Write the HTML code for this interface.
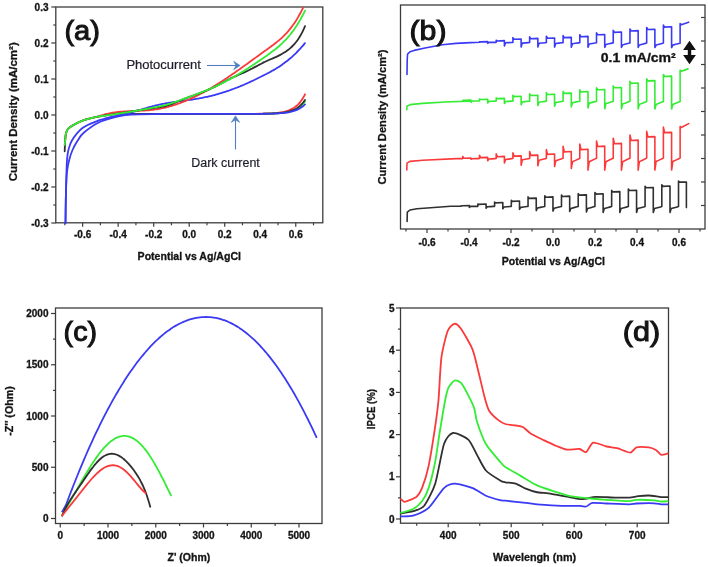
<!DOCTYPE html>
<html><head><meta charset="utf-8"><style>
html,body{margin:0;padding:0;background:#fff;width:708px;height:567px;overflow:hidden}
svg{display:block;font-family:"Liberation Sans",sans-serif;filter:blur(0.4px)}
</style></head><body>
<svg width="708" height="567" viewBox="0 0 708 567">
<rect width="708" height="567" fill="#fff"/>
<rect x="55.8" y="7.0" width="267.0" height="215.8" fill="none" stroke="#3c3c3c" stroke-width="1.3"/>
<line x1="51.30" y1="223.00" x2="55.80" y2="223.00" stroke="#3c3c3c" stroke-width="1.2"/>
<text x="48.50" y="226.50" font-size="10" text-anchor="end" font-weight="bold" fill="#141414" stroke="#141414" stroke-width="0.3">-0.3</text>
<line x1="53.30" y1="205.00" x2="55.80" y2="205.00" stroke="#3c3c3c" stroke-width="1.2"/>
<line x1="51.30" y1="187.00" x2="55.80" y2="187.00" stroke="#3c3c3c" stroke-width="1.2"/>
<text x="48.50" y="190.50" font-size="10" text-anchor="end" font-weight="bold" fill="#141414" stroke="#141414" stroke-width="0.3">-0.2</text>
<line x1="53.30" y1="169.00" x2="55.80" y2="169.00" stroke="#3c3c3c" stroke-width="1.2"/>
<line x1="51.30" y1="151.00" x2="55.80" y2="151.00" stroke="#3c3c3c" stroke-width="1.2"/>
<text x="48.50" y="154.50" font-size="10" text-anchor="end" font-weight="bold" fill="#141414" stroke="#141414" stroke-width="0.3">-0.1</text>
<line x1="53.30" y1="133.00" x2="55.80" y2="133.00" stroke="#3c3c3c" stroke-width="1.2"/>
<line x1="51.30" y1="115.00" x2="55.80" y2="115.00" stroke="#3c3c3c" stroke-width="1.2"/>
<text x="48.50" y="118.50" font-size="10" text-anchor="end" font-weight="bold" fill="#141414" stroke="#141414" stroke-width="0.3">0.0</text>
<line x1="53.30" y1="97.00" x2="55.80" y2="97.00" stroke="#3c3c3c" stroke-width="1.2"/>
<line x1="51.30" y1="79.00" x2="55.80" y2="79.00" stroke="#3c3c3c" stroke-width="1.2"/>
<text x="48.50" y="82.50" font-size="10" text-anchor="end" font-weight="bold" fill="#141414" stroke="#141414" stroke-width="0.3">0.1</text>
<line x1="53.30" y1="61.00" x2="55.80" y2="61.00" stroke="#3c3c3c" stroke-width="1.2"/>
<line x1="51.30" y1="43.00" x2="55.80" y2="43.00" stroke="#3c3c3c" stroke-width="1.2"/>
<text x="48.50" y="46.50" font-size="10" text-anchor="end" font-weight="bold" fill="#141414" stroke="#141414" stroke-width="0.3">0.2</text>
<line x1="53.30" y1="25.00" x2="55.80" y2="25.00" stroke="#3c3c3c" stroke-width="1.2"/>
<line x1="51.30" y1="7.00" x2="55.80" y2="7.00" stroke="#3c3c3c" stroke-width="1.2"/>
<text x="48.50" y="10.50" font-size="10" text-anchor="end" font-weight="bold" fill="#141414" stroke="#141414" stroke-width="0.3">0.3</text>
<line x1="64.88" y1="222.80" x2="64.88" y2="225.30" stroke="#3c3c3c" stroke-width="1.2"/>
<line x1="82.64" y1="222.80" x2="82.64" y2="226.80" stroke="#3c3c3c" stroke-width="1.2"/>
<text x="82.64" y="238.30" font-size="10" text-anchor="middle" font-weight="bold" fill="#141414" stroke="#141414" stroke-width="0.3">-0.6</text>
<line x1="100.40" y1="222.80" x2="100.40" y2="225.30" stroke="#3c3c3c" stroke-width="1.2"/>
<line x1="118.16" y1="222.80" x2="118.16" y2="226.80" stroke="#3c3c3c" stroke-width="1.2"/>
<text x="118.16" y="238.30" font-size="10" text-anchor="middle" font-weight="bold" fill="#141414" stroke="#141414" stroke-width="0.3">-0.4</text>
<line x1="135.92" y1="222.80" x2="135.92" y2="225.30" stroke="#3c3c3c" stroke-width="1.2"/>
<line x1="153.68" y1="222.80" x2="153.68" y2="226.80" stroke="#3c3c3c" stroke-width="1.2"/>
<text x="153.68" y="238.30" font-size="10" text-anchor="middle" font-weight="bold" fill="#141414" stroke="#141414" stroke-width="0.3">-0.2</text>
<line x1="171.44" y1="222.80" x2="171.44" y2="225.30" stroke="#3c3c3c" stroke-width="1.2"/>
<line x1="189.20" y1="222.80" x2="189.20" y2="226.80" stroke="#3c3c3c" stroke-width="1.2"/>
<text x="189.20" y="238.30" font-size="10" text-anchor="middle" font-weight="bold" fill="#141414" stroke="#141414" stroke-width="0.3">0.0</text>
<line x1="206.96" y1="222.80" x2="206.96" y2="225.30" stroke="#3c3c3c" stroke-width="1.2"/>
<line x1="224.72" y1="222.80" x2="224.72" y2="226.80" stroke="#3c3c3c" stroke-width="1.2"/>
<text x="224.72" y="238.30" font-size="10" text-anchor="middle" font-weight="bold" fill="#141414" stroke="#141414" stroke-width="0.3">0.2</text>
<line x1="242.48" y1="222.80" x2="242.48" y2="225.30" stroke="#3c3c3c" stroke-width="1.2"/>
<line x1="260.24" y1="222.80" x2="260.24" y2="226.80" stroke="#3c3c3c" stroke-width="1.2"/>
<text x="260.24" y="238.30" font-size="10" text-anchor="middle" font-weight="bold" fill="#141414" stroke="#141414" stroke-width="0.3">0.4</text>
<line x1="278.00" y1="222.80" x2="278.00" y2="225.30" stroke="#3c3c3c" stroke-width="1.2"/>
<line x1="295.76" y1="222.80" x2="295.76" y2="226.80" stroke="#3c3c3c" stroke-width="1.2"/>
<text x="295.76" y="238.30" font-size="10" text-anchor="middle" font-weight="bold" fill="#141414" stroke="#141414" stroke-width="0.3">0.6</text>
<line x1="313.52" y1="222.80" x2="313.52" y2="225.30" stroke="#3c3c3c" stroke-width="1.2"/>
<text x="189.30" y="260.30" font-size="10.5" text-anchor="middle" font-weight="bold" fill="#141414" stroke="#141414" stroke-width="0.3" textLength="103.4" lengthAdjust="spacingAndGlyphs">Potential vs Ag/AgCl</text>
<text x="16.80" y="111.80" font-size="11.5" text-anchor="middle" font-weight="bold" fill="#141414" stroke="#141414" stroke-width="0.3" textLength="139" lengthAdjust="spacingAndGlyphs" transform="rotate(-90 16.8 111.8)">Current Density (mA/cm²)</text>
<text x="82.20" y="39.60" font-size="27" text-anchor="middle" font-weight="normal" fill="#141414" stroke="#141414" stroke-width="1.0" textLength="35.6" lengthAdjust="spacingAndGlyphs">(a)</text>
<path d="M131.00,113.90 C132.67,113.90 137.67,113.90 141.00,113.90 C144.33,113.90 147.67,113.90 151.00,113.90 C154.33,113.90 157.67,113.90 161.00,113.90 C164.33,113.90 167.67,113.90 171.00,113.90 C174.33,113.90 177.67,113.90 181.00,113.90 C184.33,113.90 187.67,113.90 191.00,113.90 C194.33,113.90 197.67,113.90 201.00,113.90 C204.33,113.90 207.67,113.90 211.00,113.90 C214.33,113.90 217.67,113.90 221.00,113.90 C224.33,113.90 227.67,113.90 231.00,113.89 C234.33,113.89 237.67,113.89 241.00,113.88 C244.33,113.87 247.67,113.86 251.00,113.83 C254.33,113.81 259.08,113.74 261.00,113.71 C262.92,113.68 262.00,113.69 262.50,113.68 C263.00,113.66 263.50,113.65 264.00,113.64 C264.50,113.62 265.00,113.61 265.50,113.59 C266.00,113.58 266.50,113.56 267.00,113.54 C267.50,113.52 268.00,113.50 268.50,113.48 C269.00,113.46 269.50,113.43 270.00,113.41 C270.50,113.38 271.00,113.35 271.50,113.32 C272.00,113.29 272.50,113.26 273.00,113.22 C273.50,113.19 274.00,113.15 274.50,113.11 C275.00,113.07 275.50,113.02 276.00,112.97 C276.50,112.93 277.00,112.87 277.50,112.82 C278.00,112.76 278.50,112.70 279.00,112.63 C279.50,112.56 280.00,112.49 280.50,112.41 C281.00,112.33 281.50,112.25 282.00,112.16 C282.50,112.07 283.00,111.97 283.50,111.86 C284.00,111.75 284.50,111.64 285.00,111.51 C285.50,111.39 286.00,111.25 286.50,111.10 C287.00,110.96 287.50,110.80 288.00,110.63 C288.50,110.45 289.00,110.27 289.50,110.07 C290.00,109.86 290.50,109.65 291.00,109.41 C291.50,109.17 292.00,108.92 292.50,108.64 C293.00,108.36 293.50,108.07 294.00,107.74 C294.50,107.42 295.00,107.07 295.50,106.69 C296.00,106.31 296.50,105.90 297.00,105.46 C297.50,105.01 298.00,104.53 298.50,104.01 C299.00,103.49 299.50,102.93 300.00,102.32 C300.50,101.71 301.00,101.06 301.50,100.34 C302.00,99.62 302.50,98.86 303.00,98.02 C303.50,97.18 304.17,95.93 304.50,95.30 C304.83,94.68 304.92,94.47 305.00,94.30" fill="none" stroke="#fa3a3a" stroke-width="1.8" stroke-linejoin="round" stroke-linecap="round"/>
<path d="M131.00,113.90 C132.67,113.90 137.67,113.90 141.00,113.90 C144.33,113.90 147.67,113.90 151.00,113.90 C154.33,113.90 157.67,113.90 161.00,113.90 C164.33,113.90 167.67,113.90 171.00,113.90 C174.33,113.90 177.67,113.90 181.00,113.90 C184.33,113.90 187.67,113.90 191.00,113.90 C194.33,113.90 197.67,113.90 201.00,113.90 C204.33,113.90 207.67,113.90 211.00,113.90 C214.33,113.90 217.67,113.90 221.00,113.90 C224.33,113.90 227.67,113.90 231.00,113.90 C234.33,113.90 237.67,113.89 241.00,113.89 C244.33,113.89 247.67,113.88 251.00,113.87 C254.33,113.86 259.08,113.82 261.00,113.81 C262.92,113.79 262.00,113.80 262.50,113.79 C263.00,113.78 263.50,113.78 264.00,113.77 C264.50,113.76 265.00,113.75 265.50,113.74 C266.00,113.74 266.50,113.73 267.00,113.72 C267.50,113.71 268.00,113.70 268.50,113.68 C269.00,113.67 269.50,113.66 270.00,113.64 C270.50,113.63 271.00,113.61 271.50,113.60 C272.00,113.58 272.50,113.56 273.00,113.54 C273.50,113.52 274.00,113.50 274.50,113.48 C275.00,113.45 275.50,113.43 276.00,113.40 C276.50,113.37 277.00,113.34 277.50,113.31 C278.00,113.28 278.50,113.24 279.00,113.20 C279.50,113.17 280.00,113.12 280.50,113.08 C281.00,113.03 281.50,112.98 282.00,112.93 C282.50,112.88 283.00,112.82 283.50,112.75 C284.00,112.69 284.50,112.62 285.00,112.55 C285.50,112.47 286.00,112.39 286.50,112.30 C287.00,112.21 287.50,112.12 288.00,112.01 C288.50,111.90 289.00,111.79 289.50,111.67 C290.00,111.54 290.50,111.41 291.00,111.26 C291.50,111.11 292.00,110.96 292.50,110.78 C293.00,110.61 293.50,110.42 294.00,110.22 C294.50,110.01 295.00,109.79 295.50,109.55 C296.00,109.31 296.50,109.05 297.00,108.76 C297.50,108.47 298.00,108.17 298.50,107.83 C299.00,107.49 299.50,107.13 300.00,106.73 C300.50,106.33 301.00,105.90 301.50,105.43 C302.00,104.95 302.50,104.45 303.00,103.89 C303.50,103.33 304.17,102.49 304.50,102.08 C304.83,101.66 304.92,101.51 305.00,101.40" fill="none" stroke="#34ec34" stroke-width="1.8" stroke-linejoin="round" stroke-linecap="round"/>
<path d="M131.00,113.90 C132.67,113.90 137.67,113.90 141.00,113.90 C144.33,113.90 147.67,113.90 151.00,113.90 C154.33,113.90 157.67,113.90 161.00,113.90 C164.33,113.90 167.67,113.90 171.00,113.90 C174.33,113.90 177.67,113.90 181.00,113.90 C184.33,113.90 187.67,113.90 191.00,113.90 C194.33,113.90 197.67,113.90 201.00,113.90 C204.33,113.90 207.67,113.90 211.00,113.90 C214.33,113.90 217.67,113.90 221.00,113.90 C224.33,113.90 227.67,113.90 231.00,113.90 C234.33,113.89 237.67,113.89 241.00,113.89 C244.33,113.88 247.67,113.88 251.00,113.87 C254.33,113.85 259.08,113.81 261.00,113.80 C262.92,113.78 262.00,113.78 262.50,113.78 C263.00,113.77 263.50,113.76 264.00,113.75 C264.50,113.75 265.00,113.74 265.50,113.73 C266.00,113.72 266.50,113.71 267.00,113.70 C267.50,113.68 268.00,113.67 268.50,113.66 C269.00,113.65 269.50,113.63 270.00,113.62 C270.50,113.60 271.00,113.58 271.50,113.56 C272.00,113.55 272.50,113.53 273.00,113.50 C273.50,113.48 274.00,113.46 274.50,113.43 C275.00,113.40 275.50,113.38 276.00,113.35 C276.50,113.31 277.00,113.28 277.50,113.25 C278.00,113.21 278.50,113.17 279.00,113.13 C279.50,113.08 280.00,113.04 280.50,112.99 C281.00,112.94 281.50,112.88 282.00,112.82 C282.50,112.76 283.00,112.70 283.50,112.62 C284.00,112.55 284.50,112.48 285.00,112.39 C285.50,112.31 286.00,112.22 286.50,112.12 C287.00,112.02 287.50,111.92 288.00,111.80 C288.50,111.68 289.00,111.56 289.50,111.42 C290.00,111.28 290.50,111.13 291.00,110.97 C291.50,110.80 292.00,110.63 292.50,110.43 C293.00,110.24 293.50,110.03 294.00,109.81 C294.50,109.58 295.00,109.33 295.50,109.06 C296.00,108.79 296.50,108.50 297.00,108.19 C297.50,107.87 298.00,107.53 298.50,107.15 C299.00,106.77 299.50,106.37 300.00,105.92 C300.50,105.48 301.00,105.00 301.50,104.48 C302.00,103.95 302.50,103.39 303.00,102.77 C303.50,102.15 304.17,101.21 304.50,100.75 C304.83,100.29 304.92,100.13 305.00,100.00" fill="none" stroke="#303030" stroke-width="1.8" stroke-linejoin="round" stroke-linecap="round"/>
<path d="M65.50,223.00 C65.55,219.17 65.65,207.17 65.80,200.00 C65.95,192.83 66.17,185.00 66.40,180.00 C66.63,175.00 66.73,173.33 67.20,170.00 C67.67,166.67 68.32,163.33 69.20,160.00 C70.08,156.67 71.03,153.33 72.50,150.00 C73.97,146.67 76.08,142.92 78.00,140.00 C79.92,137.08 80.62,135.38 84.00,132.50 C87.38,129.62 92.97,125.30 98.30,122.70 C103.63,120.10 110.55,118.27 116.00,116.90 C121.45,115.53 123.67,114.98 131.00,114.50 C138.33,114.02 155.00,114.10 160.00,114.00 C165.00,113.90 159.17,113.92 161.00,113.90 C162.83,113.88 167.67,113.90 171.00,113.90 C174.33,113.90 177.67,113.90 181.00,113.90 C184.33,113.90 187.67,113.90 191.00,113.90 C194.33,113.90 197.67,113.90 201.00,113.90 C204.33,113.90 207.67,113.90 211.00,113.90 C214.33,113.90 217.67,113.90 221.00,113.90 C224.33,113.90 227.67,113.90 231.00,113.90 C234.33,113.89 237.67,113.89 241.00,113.89 C244.33,113.88 247.67,113.88 251.00,113.87 C254.33,113.85 259.08,113.82 261.00,113.81 C262.92,113.79 262.00,113.80 262.50,113.79 C263.00,113.79 263.50,113.78 264.00,113.77 C264.50,113.77 265.00,113.76 265.50,113.75 C266.00,113.74 266.50,113.74 267.00,113.73 C267.50,113.72 268.00,113.71 268.50,113.70 C269.00,113.69 269.50,113.67 270.00,113.66 C270.50,113.65 271.00,113.64 271.50,113.62 C272.00,113.61 272.50,113.59 273.00,113.57 C273.50,113.56 274.00,113.54 274.50,113.52 C275.00,113.50 275.50,113.47 276.00,113.45 C276.50,113.43 277.00,113.40 277.50,113.37 C278.00,113.35 278.50,113.32 279.00,113.28 C279.50,113.25 280.00,113.22 280.50,113.18 C281.00,113.14 281.50,113.10 282.00,113.06 C282.50,113.01 283.00,112.96 283.50,112.91 C284.00,112.86 284.50,112.80 285.00,112.74 C285.50,112.68 286.00,112.62 286.50,112.54 C287.00,112.47 287.50,112.40 288.00,112.31 C288.50,112.23 289.00,112.14 289.50,112.04 C290.00,111.94 290.50,111.84 291.00,111.72 C291.50,111.61 292.00,111.49 292.50,111.35 C293.00,111.22 293.50,111.07 294.00,110.92 C294.50,110.76 295.00,110.59 295.50,110.41 C296.00,110.22 296.50,110.02 297.00,109.81 C297.50,109.59 298.00,109.36 298.50,109.11 C299.00,108.85 299.50,108.58 300.00,108.29 C300.50,107.99 301.00,107.68 301.50,107.33 C302.00,106.98 302.50,106.61 303.00,106.20 C303.50,105.80 304.17,105.19 304.50,104.89 C304.83,104.59 304.92,104.48 305.00,104.40" fill="none" stroke="#3a3af4" stroke-width="1.8" stroke-linejoin="round" stroke-linecap="round"/>
<path d="M65.50,223.00 C65.55,219.17 65.65,208.00 65.80,200.00 C65.95,192.00 66.20,181.67 66.40,175.00 C66.60,168.33 66.67,164.17 67.00,160.00 C67.33,155.83 67.53,153.33 68.40,150.00 C69.27,146.67 69.85,143.67 72.20,140.00 C74.55,136.33 78.15,131.24 82.50,128.00 C86.85,124.76 95.33,121.93 98.30,120.58 C101.27,119.24 99.63,120.15 100.30,119.95 C100.97,119.74 101.63,119.54 102.30,119.34 C102.97,119.15 103.63,118.96 104.30,118.77 C104.97,118.58 105.63,118.40 106.30,118.22 C106.97,118.05 107.63,117.87 108.30,117.70 C108.97,117.53 109.63,117.37 110.30,117.20 C110.97,117.04 111.63,116.88 112.30,116.72 C112.97,116.56 113.63,116.40 114.30,116.25 C114.97,116.09 115.63,115.94 116.30,115.78 C116.97,115.63 117.63,115.48 118.30,115.33 C118.97,115.18 119.63,115.03 120.30,114.88 C120.97,114.73 121.63,114.58 122.30,114.43 C122.97,114.27 123.63,114.12 124.30,113.97 C124.97,113.82 125.63,113.66 126.30,113.51 C126.97,113.35 127.63,113.19 128.30,113.03 C128.97,112.87 129.63,112.71 130.30,112.55 C130.97,112.38 131.63,112.21 132.30,112.04 C132.97,111.87 133.63,111.69 134.30,111.51 C134.97,111.33 135.63,111.15 136.30,110.96 C136.97,110.78 137.63,110.59 138.30,110.39 C138.97,110.20 139.63,110.00 140.30,109.81 C140.97,109.61 141.63,109.41 142.30,109.21 C142.97,109.01 143.63,108.81 144.30,108.61 C144.97,108.41 145.63,108.21 146.30,108.01 C146.97,107.81 147.63,107.62 148.30,107.42 C148.97,107.23 149.63,107.04 150.30,106.85 C150.97,106.66 151.63,106.48 152.30,106.30 C152.97,106.12 153.63,105.94 154.30,105.77 C154.97,105.60 155.63,105.44 156.30,105.28 C156.97,105.12 157.63,104.97 158.30,104.82 C158.97,104.67 159.63,104.53 160.30,104.39 C160.97,104.25 161.63,104.11 162.30,103.98 C162.97,103.85 163.63,103.73 164.30,103.61 C164.97,103.48 165.63,103.36 166.30,103.25 C166.97,103.13 167.63,103.02 168.30,102.91 C168.97,102.80 169.63,102.70 170.30,102.59 C170.97,102.49 171.63,102.39 172.30,102.29 C172.97,102.19 173.63,102.09 174.30,102.00 C174.97,101.90 175.63,101.81 176.30,101.72 C176.97,101.62 177.63,101.53 178.30,101.44 C178.97,101.35 179.63,101.26 180.30,101.17 C180.97,101.08 181.63,100.99 182.30,100.90 C182.97,100.81 183.63,100.72 184.30,100.63 C184.97,100.55 185.63,100.46 186.30,100.36 C186.97,100.27 187.63,100.18 188.30,100.09 C188.97,99.99 189.63,99.90 190.30,99.80 C190.97,99.71 191.63,99.61 192.30,99.51 C192.97,99.41 193.63,99.31 194.30,99.20 C194.97,99.10 195.63,98.99 196.30,98.88 C196.97,98.77 197.63,98.66 198.30,98.54 C198.97,98.42 199.63,98.30 200.30,98.18 C200.97,98.06 201.63,97.93 202.30,97.80 C202.97,97.67 203.63,97.53 204.30,97.39 C204.97,97.25 205.63,97.11 206.30,96.96 C206.97,96.82 207.63,96.67 208.30,96.51 C208.97,96.36 209.63,96.20 210.30,96.04 C210.97,95.88 211.63,95.72 212.30,95.55 C212.97,95.38 213.63,95.21 214.30,95.03 C214.97,94.85 215.63,94.67 216.30,94.49 C216.97,94.31 217.63,94.12 218.30,93.93 C218.97,93.74 219.63,93.54 220.30,93.34 C220.97,93.14 221.63,92.94 222.30,92.73 C222.97,92.53 223.63,92.32 224.30,92.10 C224.97,91.89 225.63,91.67 226.30,91.45 C226.97,91.23 227.63,91.01 228.30,90.78 C228.97,90.55 229.63,90.32 230.30,90.08 C230.97,89.84 231.63,89.60 232.30,89.36 C232.97,89.12 233.63,88.87 234.30,88.62 C234.97,88.37 235.63,88.11 236.30,87.85 C236.97,87.59 237.63,87.33 238.30,87.06 C238.97,86.80 239.63,86.53 240.30,86.25 C240.97,85.98 241.63,85.70 242.30,85.42 C242.97,85.14 243.63,84.85 244.30,84.56 C244.97,84.28 245.63,83.98 246.30,83.69 C246.97,83.39 247.63,83.09 248.30,82.79 C248.97,82.48 249.63,82.17 250.30,81.86 C250.97,81.55 251.63,81.24 252.30,80.92 C252.97,80.61 253.63,80.29 254.30,79.97 C254.97,79.65 255.63,79.32 256.30,79.00 C256.97,78.67 257.63,78.35 258.30,78.02 C258.97,77.69 259.63,77.36 260.30,77.03 C260.97,76.70 261.63,76.37 262.30,76.04 C262.97,75.71 263.63,75.38 264.30,75.04 C264.97,74.70 265.63,74.36 266.30,74.02 C266.97,73.67 267.63,73.33 268.30,72.97 C268.97,72.62 269.63,72.26 270.30,71.90 C270.97,71.53 271.63,71.17 272.30,70.79 C272.97,70.41 273.63,70.03 274.30,69.64 C274.97,69.25 275.63,68.85 276.30,68.44 C276.97,68.03 277.63,67.61 278.30,67.19 C278.97,66.76 279.63,66.33 280.30,65.88 C280.97,65.43 281.63,64.98 282.30,64.51 C282.97,64.04 283.63,63.56 284.30,63.07 C284.97,62.58 285.63,62.08 286.30,61.57 C286.97,61.05 287.63,60.52 288.30,59.98 C288.97,59.44 289.63,58.88 290.30,58.31 C290.97,57.74 291.63,57.16 292.30,56.56 C292.97,55.96 293.63,55.35 294.30,54.71 C294.97,54.08 295.63,53.44 296.30,52.77 C296.97,52.11 297.63,51.43 298.30,50.73 C298.97,50.03 299.63,49.32 300.30,48.58 C300.97,47.85 301.63,47.09 302.30,46.32 C302.97,45.55 303.85,44.48 304.30,43.94 C304.75,43.40 304.88,43.23 305.00,43.08" fill="none" stroke="#3a3af4" stroke-width="1.8" stroke-linejoin="round" stroke-linecap="round"/>
<path d="M64.70,146.00 C64.78,145.00 64.98,142.12 65.20,140.00 C65.42,137.88 65.53,135.13 66.00,133.30 C66.47,131.47 67.02,130.23 68.00,129.00 C68.98,127.77 69.48,127.30 71.90,125.90 C74.32,124.50 78.10,122.17 82.50,120.60 C86.90,119.03 95.33,117.30 98.30,116.49 C101.27,115.69 99.63,115.99 100.30,115.76 C100.97,115.53 101.63,115.31 102.30,115.10 C102.97,114.90 103.63,114.70 104.30,114.51 C104.97,114.33 105.63,114.15 106.30,113.99 C106.97,113.82 107.63,113.67 108.30,113.52 C108.97,113.37 109.63,113.23 110.30,113.11 C110.97,112.98 111.63,112.86 112.30,112.74 C112.97,112.63 113.63,112.53 114.30,112.43 C114.97,112.33 115.63,112.24 116.30,112.16 C116.97,112.07 117.63,111.99 118.30,111.92 C118.97,111.85 119.63,111.78 120.30,111.72 C120.97,111.66 121.63,111.61 122.30,111.55 C122.97,111.50 123.63,111.45 124.30,111.41 C124.97,111.37 125.63,111.33 126.30,111.29 C126.97,111.25 127.63,111.22 128.30,111.19 C128.97,111.16 129.63,111.13 130.30,111.10 C130.97,111.07 131.63,111.05 132.30,111.02 C132.97,110.99 133.63,110.97 134.30,110.95 C134.97,110.92 135.63,110.90 136.30,110.87 C136.97,110.85 137.63,110.83 138.30,110.80 C138.97,110.77 139.63,110.75 140.30,110.72 C140.97,110.69 141.63,110.66 142.30,110.63 C142.97,110.59 143.63,110.56 144.30,110.52 C144.97,110.48 145.63,110.44 146.30,110.39 C146.97,110.35 147.63,110.30 148.30,110.24 C148.97,110.19 149.63,110.13 150.30,110.07 C150.97,110.00 151.63,109.93 152.30,109.86 C152.97,109.78 153.63,109.70 154.30,109.61 C154.97,109.52 155.63,109.43 156.30,109.33 C156.97,109.23 157.63,109.12 158.30,109.00 C158.97,108.89 159.63,108.77 160.30,108.64 C160.97,108.51 161.63,108.38 162.30,108.24 C162.97,108.10 163.63,107.95 164.30,107.80 C164.97,107.64 165.63,107.48 166.30,107.32 C166.97,107.15 167.63,106.98 168.30,106.80 C168.97,106.62 169.63,106.44 170.30,106.25 C170.97,106.06 171.63,105.86 172.30,105.66 C172.97,105.46 173.63,105.25 174.30,105.04 C174.97,104.82 175.63,104.60 176.30,104.38 C176.97,104.15 177.63,103.92 178.30,103.68 C178.97,103.45 179.63,103.20 180.30,102.96 C180.97,102.71 181.63,102.46 182.30,102.20 C182.97,101.94 183.63,101.68 184.30,101.41 C184.97,101.14 185.63,100.86 186.30,100.58 C186.97,100.30 187.63,100.02 188.30,99.73 C188.97,99.44 189.63,99.14 190.30,98.84 C190.97,98.54 191.63,98.24 192.30,97.93 C192.97,97.62 193.63,97.30 194.30,96.98 C194.97,96.66 195.63,96.34 196.30,96.01 C196.97,95.68 197.63,95.35 198.30,95.01 C198.97,94.67 199.63,94.33 200.30,93.98 C200.97,93.63 201.63,93.28 202.30,92.92 C202.97,92.57 203.63,92.20 204.30,91.84 C204.97,91.47 205.63,91.10 206.30,90.73 C206.97,90.36 207.63,89.98 208.30,89.60 C208.97,89.22 209.63,88.83 210.30,88.44 C210.97,88.05 211.63,87.66 212.30,87.26 C212.97,86.86 213.63,86.46 214.30,86.05 C214.97,85.65 215.63,85.24 216.30,84.83 C216.97,84.41 217.63,84.00 218.30,83.58 C218.97,83.16 219.63,82.73 220.30,82.30 C220.97,81.88 221.63,81.45 222.30,81.01 C222.97,80.58 223.63,80.15 224.30,79.71 C224.97,79.27 225.63,78.82 226.30,78.38 C226.97,77.93 227.63,77.49 228.30,77.04 C228.97,76.59 229.63,76.13 230.30,75.68 C230.97,75.22 231.63,74.77 232.30,74.31 C232.97,73.85 233.63,73.39 234.30,72.92 C234.97,72.46 235.63,71.99 236.30,71.53 C236.97,71.06 237.63,70.59 238.30,70.12 C238.97,69.65 239.63,69.17 240.30,68.70 C240.97,68.23 241.63,67.75 242.30,67.27 C242.97,66.80 243.63,66.32 244.30,65.84 C244.97,65.36 245.63,64.88 246.30,64.40 C246.97,63.92 247.63,63.44 248.30,62.96 C248.97,62.47 249.63,61.99 250.30,61.51 C250.97,61.02 251.63,60.54 252.30,60.05 C252.97,59.57 253.63,59.08 254.30,58.60 C254.97,58.11 255.63,57.63 256.30,57.14 C256.97,56.66 257.63,56.17 258.30,55.69 C258.97,55.20 259.63,54.72 260.30,54.23 C260.97,53.75 261.63,53.27 262.30,52.78 C262.97,52.30 263.63,51.82 264.30,51.34 C264.97,50.85 265.63,50.37 266.30,49.89 C266.97,49.41 267.63,48.94 268.30,48.46 C268.97,47.98 269.63,47.50 270.30,47.02 C270.97,46.53 271.63,46.05 272.30,45.56 C272.97,45.06 273.63,44.57 274.30,44.06 C274.97,43.55 275.63,43.04 276.30,42.51 C276.97,41.98 277.63,41.44 278.30,40.88 C278.97,40.33 279.63,39.76 280.30,39.17 C280.97,38.58 281.63,37.98 282.30,37.35 C282.97,36.72 283.63,36.08 284.30,35.40 C284.97,34.73 285.63,34.04 286.30,33.32 C286.97,32.60 287.63,31.85 288.30,31.07 C288.97,30.29 289.63,29.49 290.30,28.65 C290.97,27.81 291.63,26.94 292.30,26.03 C292.97,25.13 293.63,24.19 294.30,23.21 C294.97,22.23 295.63,21.21 296.30,20.15 C296.97,19.09 297.63,17.99 298.30,16.85 C298.97,15.70 299.63,14.52 300.30,13.28 C300.97,12.05 301.83,10.35 302.30,9.43 C302.77,8.52 302.97,8.08 303.10,7.81" fill="none" stroke="#fa3a3a" stroke-width="1.8" stroke-linejoin="round" stroke-linecap="round"/>
<path d="M64.70,151.30 C64.78,149.42 64.98,143.00 65.20,140.00 C65.42,137.00 65.53,135.13 66.00,133.30 C66.47,131.47 67.02,130.23 68.00,129.00 C68.98,127.77 69.48,127.30 71.90,125.90 C74.32,124.50 78.10,122.16 82.50,120.60 C86.90,119.04 95.33,117.26 98.30,116.54 C101.27,115.81 99.63,116.35 100.30,116.25 C100.97,116.15 101.63,116.06 102.30,115.96 C102.97,115.86 103.63,115.76 104.30,115.66 C104.97,115.56 105.63,115.46 106.30,115.36 C106.97,115.26 107.63,115.16 108.30,115.06 C108.97,114.96 109.63,114.86 110.30,114.76 C110.97,114.65 111.63,114.55 112.30,114.45 C112.97,114.35 113.63,114.25 114.30,114.14 C114.97,114.04 115.63,113.94 116.30,113.83 C116.97,113.73 117.63,113.63 118.30,113.52 C118.97,113.42 119.63,113.31 120.30,113.21 C120.97,113.10 121.63,113.00 122.30,112.90 C122.97,112.79 123.63,112.69 124.30,112.58 C124.97,112.48 125.63,112.37 126.30,112.27 C126.97,112.16 127.63,112.06 128.30,111.95 C128.97,111.85 129.63,111.74 130.30,111.64 C130.97,111.53 131.63,111.43 132.30,111.32 C132.97,111.22 133.63,111.11 134.30,111.01 C134.97,110.91 135.63,110.80 136.30,110.70 C136.97,110.59 137.63,110.49 138.30,110.38 C138.97,110.28 139.63,110.18 140.30,110.07 C140.97,109.97 141.63,109.87 142.30,109.76 C142.97,109.66 143.63,109.56 144.30,109.46 C144.97,109.35 145.63,109.25 146.30,109.15 C146.97,109.05 147.63,108.95 148.30,108.85 C148.97,108.74 149.63,108.64 150.30,108.54 C150.97,108.44 151.63,108.34 152.30,108.25 C152.97,108.15 153.63,108.05 154.30,107.95 C154.97,107.85 155.63,107.75 156.30,107.66 C156.97,107.56 157.63,107.46 158.30,107.35 C158.97,107.25 159.63,107.14 160.30,107.03 C160.97,106.91 161.63,106.79 162.30,106.67 C162.97,106.54 163.63,106.40 164.30,106.25 C164.97,106.10 165.63,105.95 166.30,105.77 C166.97,105.60 167.63,105.42 168.30,105.21 C168.97,105.01 169.63,104.79 170.30,104.56 C170.97,104.33 171.63,104.08 172.30,103.82 C172.97,103.56 173.63,103.28 174.30,103.01 C174.97,102.73 175.63,102.44 176.30,102.16 C176.97,101.87 177.63,101.58 178.30,101.29 C178.97,101.01 179.63,100.72 180.30,100.44 C180.97,100.16 181.63,99.89 182.30,99.62 C182.97,99.35 183.63,99.09 184.30,98.83 C184.97,98.57 185.63,98.31 186.30,98.06 C186.97,97.80 187.63,97.55 188.30,97.31 C188.97,97.06 189.63,96.82 190.30,96.57 C190.97,96.33 191.63,96.09 192.30,95.85 C192.97,95.61 193.63,95.37 194.30,95.13 C194.97,94.89 195.63,94.65 196.30,94.40 C196.97,94.16 197.63,93.92 198.30,93.68 C198.97,93.43 199.63,93.19 200.30,92.94 C200.97,92.70 201.63,92.45 202.30,92.19 C202.97,91.94 203.63,91.68 204.30,91.42 C204.97,91.16 205.63,90.90 206.30,90.63 C206.97,90.36 207.63,90.09 208.30,89.81 C208.97,89.52 209.63,89.24 210.30,88.95 C210.97,88.66 211.63,88.36 212.30,88.05 C212.97,87.75 213.63,87.43 214.30,87.11 C214.97,86.79 215.63,86.46 216.30,86.12 C216.97,85.79 217.63,85.44 218.30,85.09 C218.97,84.74 219.63,84.39 220.30,84.03 C220.97,83.67 221.63,83.31 222.30,82.95 C222.97,82.58 223.63,82.22 224.30,81.86 C224.97,81.49 225.63,81.13 226.30,80.77 C226.97,80.41 227.63,80.06 228.30,79.70 C228.97,79.35 229.63,79.01 230.30,78.67 C230.97,78.33 231.63,78.00 232.30,77.68 C232.97,77.36 233.63,77.04 234.30,76.73 C234.97,76.42 235.63,76.12 236.30,75.83 C236.97,75.53 237.63,75.23 238.30,74.94 C238.97,74.65 239.63,74.36 240.30,74.07 C240.97,73.78 241.63,73.49 242.30,73.19 C242.97,72.90 243.63,72.61 244.30,72.31 C244.97,72.01 245.63,71.71 246.30,71.39 C246.97,71.08 247.63,70.77 248.30,70.44 C248.97,70.12 249.63,69.79 250.30,69.45 C250.97,69.12 251.63,68.77 252.30,68.43 C252.97,68.08 253.63,67.73 254.30,67.38 C254.97,67.03 255.63,66.68 256.30,66.33 C256.97,65.97 257.63,65.62 258.30,65.27 C258.97,64.91 259.63,64.56 260.30,64.21 C260.97,63.87 261.63,63.52 262.30,63.18 C262.97,62.84 263.63,62.50 264.30,62.17 C264.97,61.85 265.63,61.52 266.30,61.21 C266.97,60.89 267.63,60.59 268.30,60.29 C268.97,59.99 269.63,59.70 270.30,59.41 C270.97,59.12 271.63,58.84 272.30,58.55 C272.97,58.26 273.63,57.98 274.30,57.69 C274.97,57.40 275.63,57.11 276.30,56.81 C276.97,56.50 277.63,56.20 278.30,55.88 C278.97,55.56 279.63,55.23 280.30,54.88 C280.97,54.53 281.63,54.17 282.30,53.79 C282.97,53.41 283.63,53.02 284.30,52.59 C284.97,52.17 285.63,51.73 286.30,51.26 C286.97,50.79 287.63,50.30 288.30,49.77 C288.97,49.25 289.63,48.69 290.30,48.11 C290.97,47.52 291.63,46.90 292.30,46.24 C292.97,45.58 293.63,44.89 294.30,44.14 C294.97,43.39 295.63,42.60 296.30,41.74 C296.97,40.88 297.63,39.97 298.30,38.98 C298.97,37.99 299.63,36.93 300.30,35.78 C300.97,34.64 301.63,33.41 302.30,32.09 C302.97,30.76 303.85,28.81 304.30,27.82 C304.75,26.84 304.88,26.46 305.00,26.18" fill="none" stroke="#303030" stroke-width="1.8" stroke-linejoin="round" stroke-linecap="round"/>
<path d="M64.70,145.00 C64.78,144.17 64.98,141.95 65.20,140.00 C65.42,138.05 65.53,135.13 66.00,133.30 C66.47,131.47 67.02,130.23 68.00,129.00 C68.98,127.77 69.48,127.30 71.90,125.90 C74.32,124.50 78.10,122.17 82.50,120.60 C86.90,119.03 95.33,117.23 98.30,116.50 C101.27,115.77 99.63,116.33 100.30,116.24 C100.97,116.16 101.63,116.07 102.30,115.98 C102.97,115.89 103.63,115.80 104.30,115.71 C104.97,115.62 105.63,115.53 106.30,115.44 C106.97,115.35 107.63,115.26 108.30,115.16 C108.97,115.07 109.63,114.97 110.30,114.88 C110.97,114.78 111.63,114.69 112.30,114.59 C112.97,114.49 113.63,114.39 114.30,114.30 C114.97,114.20 115.63,114.10 116.30,114.00 C116.97,113.90 117.63,113.79 118.30,113.69 C118.97,113.59 119.63,113.49 120.30,113.38 C120.97,113.28 121.63,113.17 122.30,113.07 C122.97,112.96 123.63,112.86 124.30,112.75 C124.97,112.64 125.63,112.53 126.30,112.43 C126.97,112.32 127.63,112.21 128.30,112.10 C128.97,111.99 129.63,111.88 130.30,111.76 C130.97,111.65 131.63,111.54 132.30,111.43 C132.97,111.31 133.63,111.20 134.30,111.08 C134.97,110.97 135.63,110.85 136.30,110.74 C136.97,110.62 137.63,110.50 138.30,110.38 C138.97,110.26 139.63,110.15 140.30,110.03 C140.97,109.91 141.63,109.79 142.30,109.67 C142.97,109.54 143.63,109.42 144.30,109.30 C144.97,109.18 145.63,109.05 146.30,108.93 C146.97,108.81 147.63,108.68 148.30,108.56 C148.97,108.43 149.63,108.30 150.30,108.18 C150.97,108.05 151.63,107.92 152.30,107.79 C152.97,107.67 153.63,107.54 154.30,107.41 C154.97,107.28 155.63,107.15 156.30,107.01 C156.97,106.88 157.63,106.75 158.30,106.61 C158.97,106.48 159.63,106.34 160.30,106.20 C160.97,106.05 161.63,105.91 162.30,105.76 C162.97,105.60 163.63,105.45 164.30,105.29 C164.97,105.12 165.63,104.96 166.30,104.78 C166.97,104.60 167.63,104.42 168.30,104.23 C168.97,104.04 169.63,103.84 170.30,103.63 C170.97,103.42 171.63,103.21 172.30,102.98 C172.97,102.76 173.63,102.53 174.30,102.30 C174.97,102.07 175.63,101.83 176.30,101.59 C176.97,101.35 177.63,101.10 178.30,100.86 C178.97,100.62 179.63,100.37 180.30,100.13 C180.97,99.89 181.63,99.64 182.30,99.40 C182.97,99.16 183.63,98.92 184.30,98.68 C184.97,98.44 185.63,98.20 186.30,97.96 C186.97,97.72 187.63,97.48 188.30,97.24 C188.97,96.99 189.63,96.75 190.30,96.51 C190.97,96.27 191.63,96.03 192.30,95.78 C192.97,95.54 193.63,95.30 194.30,95.05 C194.97,94.80 195.63,94.56 196.30,94.31 C196.97,94.06 197.63,93.81 198.30,93.56 C198.97,93.31 199.63,93.05 200.30,92.80 C200.97,92.54 201.63,92.28 202.30,92.02 C202.97,91.76 203.63,91.50 204.30,91.23 C204.97,90.96 205.63,90.70 206.30,90.42 C206.97,90.15 207.63,89.88 208.30,89.60 C208.97,89.32 209.63,89.04 210.30,88.75 C210.97,88.46 211.63,88.18 212.30,87.88 C212.97,87.59 213.63,87.29 214.30,86.99 C214.97,86.69 215.63,86.38 216.30,86.07 C216.97,85.76 217.63,85.44 218.30,85.12 C218.97,84.80 219.63,84.48 220.30,84.15 C220.97,83.82 221.63,83.49 222.30,83.15 C222.97,82.81 223.63,82.47 224.30,82.13 C224.97,81.78 225.63,81.43 226.30,81.08 C226.97,80.72 227.63,80.37 228.30,80.01 C228.97,79.65 229.63,79.28 230.30,78.91 C230.97,78.54 231.63,78.17 232.30,77.79 C232.97,77.42 233.63,77.04 234.30,76.65 C234.97,76.27 235.63,75.88 236.30,75.49 C236.97,75.10 237.63,74.71 238.30,74.31 C238.97,73.91 239.63,73.51 240.30,73.11 C240.97,72.70 241.63,72.29 242.30,71.88 C242.97,71.47 243.63,71.06 244.30,70.64 C244.97,70.22 245.63,69.80 246.30,69.38 C246.97,68.96 247.63,68.53 248.30,68.10 C248.97,67.67 249.63,67.24 250.30,66.81 C250.97,66.37 251.63,65.94 252.30,65.50 C252.97,65.06 253.63,64.61 254.30,64.17 C254.97,63.72 255.63,63.27 256.30,62.82 C256.97,62.37 257.63,61.92 258.30,61.46 C258.97,61.01 259.63,60.55 260.30,60.09 C260.97,59.63 261.63,59.17 262.30,58.70 C262.97,58.24 263.63,57.77 264.30,57.30 C264.97,56.84 265.63,56.36 266.30,55.89 C266.97,55.42 267.63,54.94 268.30,54.47 C268.97,53.99 269.63,53.51 270.30,53.02 C270.97,52.54 271.63,52.05 272.30,51.55 C272.97,51.05 273.63,50.54 274.30,50.02 C274.97,49.51 275.63,48.98 276.30,48.44 C276.97,47.90 277.63,47.35 278.30,46.78 C278.97,46.21 279.63,45.63 280.30,45.03 C280.97,44.43 281.63,43.82 282.30,43.18 C282.97,42.55 283.63,41.90 284.30,41.22 C284.97,40.54 285.63,39.84 286.30,39.12 C286.97,38.40 287.63,37.65 288.30,36.88 C288.97,36.11 289.63,35.31 290.30,34.48 C290.97,33.65 291.63,32.80 292.30,31.91 C292.97,31.02 293.63,30.10 294.30,29.15 C294.97,28.19 295.63,27.21 296.30,26.19 C296.97,25.17 297.63,24.11 298.30,23.01 C298.97,21.92 299.63,20.79 300.30,19.61 C300.97,18.44 301.63,17.22 302.30,15.97 C302.97,14.71 303.85,12.95 304.30,12.06 C304.75,11.17 304.88,10.87 305.00,10.63" fill="none" stroke="#34ec34" stroke-width="1.8" stroke-linejoin="round" stroke-linecap="round"/>
<text x="126.40" y="68.70" font-size="12" text-anchor="start" font-weight="normal" fill="#1e1e2c" stroke="#1e1e2c" stroke-width="0.2" textLength="74.4" lengthAdjust="spacingAndGlyphs">Photocurrent</text>
<line x1="206.90" y1="65.50" x2="236.50" y2="65.50" stroke="#4f7fc0" stroke-width="1.1"/>
<path d="M240.2,65.5 L233.6,61.2 L236.0,65.5 L233.6,69.8 Z" fill="#4f7fc0" stroke="#4f7fc0" stroke-width="0.5" stroke-linejoin="round"/>
<text x="191.30" y="167.10" font-size="12" text-anchor="start" font-weight="normal" fill="#1e1e2c" stroke="#1e1e2c" stroke-width="0.2" textLength="68.5" lengthAdjust="spacingAndGlyphs">Dark current</text>
<line x1="235.50" y1="119.50" x2="235.50" y2="149.50" stroke="#4f7fc0" stroke-width="1.1"/>
<path d="M235.5,115.8 L231.2,122.4 L235.5,120.0 L239.8,122.4 Z" fill="#4f7fc0" stroke="#4f7fc0" stroke-width="0.5" stroke-linejoin="round"/>
<rect x="400.5" y="5.0" width="304.5" height="224.0" fill="none" stroke="#3c3c3c" stroke-width="1.3"/>
<line x1="701.00" y1="205.50" x2="705.00" y2="205.50" stroke="#3c3c3c" stroke-width="1.2"/>
<line x1="701.00" y1="182.00" x2="705.00" y2="182.00" stroke="#3c3c3c" stroke-width="1.2"/>
<line x1="701.00" y1="158.50" x2="705.00" y2="158.50" stroke="#3c3c3c" stroke-width="1.2"/>
<line x1="701.00" y1="135.00" x2="705.00" y2="135.00" stroke="#3c3c3c" stroke-width="1.2"/>
<line x1="701.00" y1="111.50" x2="705.00" y2="111.50" stroke="#3c3c3c" stroke-width="1.2"/>
<line x1="701.00" y1="88.00" x2="705.00" y2="88.00" stroke="#3c3c3c" stroke-width="1.2"/>
<line x1="701.00" y1="64.50" x2="705.00" y2="64.50" stroke="#3c3c3c" stroke-width="1.2"/>
<line x1="701.00" y1="41.00" x2="705.00" y2="41.00" stroke="#3c3c3c" stroke-width="1.2"/>
<line x1="701.00" y1="17.50" x2="705.00" y2="17.50" stroke="#3c3c3c" stroke-width="1.2"/>
<line x1="406.00" y1="229.00" x2="406.00" y2="231.50" stroke="#3c3c3c" stroke-width="1.2"/>
<line x1="427.00" y1="229.00" x2="427.00" y2="233.00" stroke="#3c3c3c" stroke-width="1.2"/>
<text x="427.00" y="245.80" font-size="10" text-anchor="middle" font-weight="bold" fill="#141414" stroke="#141414" stroke-width="0.3">-0.6</text>
<line x1="448.00" y1="229.00" x2="448.00" y2="231.50" stroke="#3c3c3c" stroke-width="1.2"/>
<line x1="469.00" y1="229.00" x2="469.00" y2="233.00" stroke="#3c3c3c" stroke-width="1.2"/>
<text x="469.00" y="245.80" font-size="10" text-anchor="middle" font-weight="bold" fill="#141414" stroke="#141414" stroke-width="0.3">-0.4</text>
<line x1="490.00" y1="229.00" x2="490.00" y2="231.50" stroke="#3c3c3c" stroke-width="1.2"/>
<line x1="511.00" y1="229.00" x2="511.00" y2="233.00" stroke="#3c3c3c" stroke-width="1.2"/>
<text x="511.00" y="245.80" font-size="10" text-anchor="middle" font-weight="bold" fill="#141414" stroke="#141414" stroke-width="0.3">-0.2</text>
<line x1="532.00" y1="229.00" x2="532.00" y2="231.50" stroke="#3c3c3c" stroke-width="1.2"/>
<line x1="553.00" y1="229.00" x2="553.00" y2="233.00" stroke="#3c3c3c" stroke-width="1.2"/>
<text x="553.00" y="245.80" font-size="10" text-anchor="middle" font-weight="bold" fill="#141414" stroke="#141414" stroke-width="0.3">0.0</text>
<line x1="574.00" y1="229.00" x2="574.00" y2="231.50" stroke="#3c3c3c" stroke-width="1.2"/>
<line x1="595.00" y1="229.00" x2="595.00" y2="233.00" stroke="#3c3c3c" stroke-width="1.2"/>
<text x="595.00" y="245.80" font-size="10" text-anchor="middle" font-weight="bold" fill="#141414" stroke="#141414" stroke-width="0.3">0.2</text>
<line x1="616.00" y1="229.00" x2="616.00" y2="231.50" stroke="#3c3c3c" stroke-width="1.2"/>
<line x1="637.00" y1="229.00" x2="637.00" y2="233.00" stroke="#3c3c3c" stroke-width="1.2"/>
<text x="637.00" y="245.80" font-size="10" text-anchor="middle" font-weight="bold" fill="#141414" stroke="#141414" stroke-width="0.3">0.4</text>
<line x1="658.00" y1="229.00" x2="658.00" y2="231.50" stroke="#3c3c3c" stroke-width="1.2"/>
<line x1="679.00" y1="229.00" x2="679.00" y2="233.00" stroke="#3c3c3c" stroke-width="1.2"/>
<text x="679.00" y="245.80" font-size="10" text-anchor="middle" font-weight="bold" fill="#141414" stroke="#141414" stroke-width="0.3">0.6</text>
<line x1="700.00" y1="229.00" x2="700.00" y2="231.50" stroke="#3c3c3c" stroke-width="1.2"/>
<path d="M407.10,221.50 L407.30,212.20 L410.00,210.00 L417.00,208.80 L450.80,206.30 L458.00,206.30 L461.00,206.30 L461.16,206.30 L461.16,205.70 L462.36,205.80 L469.36,205.50 L469.36,207.51 L470.56,206.41 L473.56,206.38 L476.56,206.34 L477.88,206.33 L477.88,203.93 L479.08,204.33 L486.08,204.03 L486.08,208.14 L487.28,206.74 L490.28,206.58 L493.28,206.42 L494.60,206.35 L494.60,202.15 L495.80,202.85 L502.80,202.55 L502.80,208.76 L504.00,207.06 L507.00,206.78 L510.00,206.49 L511.32,206.37 L511.32,200.37 L512.52,201.37 L519.52,201.07 L519.52,209.38 L520.72,207.38 L523.72,206.98 L526.72,206.57 L528.04,206.39 L528.04,196.89 L529.24,198.39 L536.24,198.09 L536.24,210.60 L537.44,208.00 L540.44,207.35 L543.44,206.70 L544.76,206.41 L544.76,195.71 L545.96,197.21 L552.96,196.91 L552.96,211.10 L554.16,208.26 L557.16,207.51 L560.16,206.76 L561.48,206.43 L561.48,194.93 L562.68,196.43 L569.68,196.13 L569.68,211.44 L570.88,208.44 L573.88,207.63 L576.88,206.81 L578.20,206.46 L578.20,193.66 L579.40,195.16 L586.40,194.86 L586.40,211.99 L587.60,208.47 L590.60,207.65 L593.60,206.84 L594.92,206.48 L594.92,192.58 L596.12,194.08 L603.12,193.78 L603.12,212.45 L604.32,208.49 L607.32,207.67 L610.32,206.86 L611.64,206.50 L611.64,190.40 L612.84,191.90 L619.84,191.60 L619.84,212.51 L621.04,208.51 L624.04,207.70 L627.04,206.88 L628.36,206.52 L628.36,189.02 L629.56,190.52 L636.56,190.22 L636.56,212.53 L637.76,208.53 L640.76,207.72 L643.76,206.90 L645.08,206.54 L645.08,186.24 L646.28,187.74 L653.28,187.44 L653.28,212.55 L654.48,208.55 L657.48,207.74 L660.48,206.92 L661.80,206.56 L661.80,184.86 L663.00,186.36 L670.00,186.06 L670.00,212.57 L671.20,208.57 L674.20,207.76 L677.20,206.94 L678.52,206.59 L678.52,181.09 L679.72,182.09 L686.40,182.09 L686.40,207.60" fill="none" stroke="#303030" stroke-width="1.6" stroke-linejoin="round" stroke-linecap="round"/>
<path d="M406.80,169.90 L407.00,163.10 L410.00,161.40 L422.60,160.20 L456.50,158.60 L458.00,158.50 L461.00,158.59 L462.76,158.59 L462.76,156.55 L463.96,158.29 L470.96,157.99 L470.96,159.32 L472.16,158.75 L475.16,158.66 L478.16,158.58 L479.48,158.54 L479.48,155.42 L480.68,157.64 L487.68,157.34 L487.68,160.77 L488.88,159.06 L491.88,158.83 L494.88,158.60 L496.20,158.50 L496.20,153.76 L497.40,156.70 L504.40,156.40 L504.40,162.98 L505.60,159.56 L508.60,159.11 L511.60,158.66 L512.92,158.46 L512.92,152.82 L514.12,156.16 L521.12,155.86 L521.12,165.28 L522.32,159.82 L525.32,159.24 L528.32,158.67 L529.64,158.41 L529.64,151.51 L530.84,155.41 L537.84,155.11 L537.84,165.79 L539.04,160.19 L542.04,159.44 L545.04,158.70 L546.36,158.37 L546.36,149.67 L547.56,154.37 L554.56,154.07 L554.56,166.55 L555.76,160.75 L558.76,159.76 L561.76,158.76 L563.08,158.33 L563.08,146.33 L564.28,151.83 L571.28,151.53 L571.28,168.51 L572.48,161.81 L575.48,160.36 L578.48,158.92 L579.80,158.28 L579.80,144.09 L581.00,149.59 L588.00,149.28 L588.00,170.22 L589.20,161.76 L592.20,160.32 L595.20,158.88 L596.52,158.24 L596.52,140.94 L597.72,146.44 L604.72,146.14 L604.72,170.22 L605.92,161.72 L608.92,160.28 L611.92,158.83 L613.24,158.20 L613.24,138.20 L614.44,143.70 L621.44,143.40 L621.44,170.18 L622.64,161.68 L625.64,160.23 L628.64,158.79 L629.96,158.16 L629.96,134.96 L631.16,140.46 L638.16,140.16 L638.16,170.13 L639.36,161.63 L642.36,160.19 L645.36,158.75 L646.68,158.11 L646.68,131.41 L647.88,136.91 L654.88,136.61 L654.88,170.09 L656.08,161.59 L659.08,160.15 L662.08,158.70 L663.40,158.07 L663.40,127.17 L664.60,132.67 L671.60,132.37 L671.60,170.05 L672.80,161.55 L675.80,160.10 L678.80,158.66 L680.12,158.03 L680.12,126.43 L681.32,127.43 L688.70,123.63" fill="none" stroke="#fa3a3a" stroke-width="1.6" stroke-linejoin="round" stroke-linecap="round"/>
<path d="M406.80,109.70 L407.00,106.30 L410.00,104.60 L422.60,103.40 L445.00,102.00 L467.80,101.10 L476.00,101.00 L462.76,101.00 L462.76,100.22 L463.96,100.40 L470.96,100.10 L470.96,102.36 L472.16,101.12 L475.16,101.07 L478.16,101.03 L479.48,101.01 L479.48,99.06 L480.68,99.51 L487.68,99.21 L487.68,102.93 L488.88,101.33 L491.88,101.21 L494.88,101.10 L496.20,101.05 L496.20,97.93 L497.40,98.65 L504.40,98.35 L504.40,103.51 L505.60,101.55 L508.60,101.36 L511.60,101.17 L512.92,101.09 L512.92,95.24 L514.12,96.59 L521.12,96.29 L521.12,104.81 L522.32,102.01 L525.32,101.65 L528.32,101.28 L529.64,101.13 L529.64,93.85 L530.84,95.53 L537.84,95.23 L537.84,105.50 L539.04,102.26 L542.04,101.82 L545.04,101.36 L546.36,101.16 L546.36,92.58 L547.56,94.56 L554.56,94.26 L554.56,106.14 L555.76,102.50 L558.76,101.97 L561.76,101.44 L563.08,101.20 L563.08,91.40 L564.28,93.40 L571.28,93.10 L571.28,106.90 L572.48,102.78 L575.48,102.15 L578.48,101.52 L579.80,101.24 L579.80,89.84 L581.00,91.84 L588.00,91.54 L588.00,107.90 L589.20,103.14 L592.20,102.38 L595.20,101.62 L596.52,101.28 L596.52,87.78 L597.72,89.78 L604.72,89.48 L604.72,108.80 L605.92,103.60 L608.92,102.67 L611.92,101.73 L613.24,101.32 L613.24,85.82 L614.44,87.82 L621.44,87.52 L621.44,108.84 L622.64,104.04 L625.64,102.94 L628.64,101.84 L629.96,101.36 L629.96,81.36 L631.16,83.36 L638.16,83.06 L638.16,108.88 L639.36,104.38 L642.36,103.16 L645.36,101.94 L646.68,101.40 L646.68,78.90 L647.88,80.90 L654.88,80.60 L654.88,108.92 L656.08,104.42 L659.08,103.20 L662.08,101.98 L663.40,101.44 L663.40,74.44 L664.60,76.44 L671.60,76.14 L671.60,108.96 L672.80,104.46 L675.80,103.24 L678.80,102.01 L680.12,101.48 L680.12,70.18 L681.32,71.18 L688.00,68.88" fill="none" stroke="#34ec34" stroke-width="1.6" stroke-linejoin="round" stroke-linecap="round"/>
<path d="M407.00,74.40 L407.20,60.00 L407.60,54.00 L410.00,51.80 L414.10,50.40 L425.00,48.00 L442.40,44.70 L456.00,43.40 L470.60,42.60 L480.00,42.30 L479.48,42.30 L479.48,41.70 L480.68,41.90 L487.68,41.60 L487.68,43.33 L488.88,42.41 L491.88,42.40 L494.88,42.38 L496.20,42.37 L496.20,40.27 L497.40,40.97 L504.40,40.67 L504.40,45.90 L505.60,42.68 L508.60,42.58 L511.60,42.48 L512.92,42.44 L512.92,37.64 L514.12,39.24 L521.12,38.94 L521.12,46.97 L522.32,43.11 L525.32,42.87 L528.32,42.62 L529.64,42.51 L529.64,36.81 L530.84,38.71 L537.84,38.41 L537.84,47.04 L539.04,43.30 L542.04,43.01 L545.04,42.71 L546.36,42.58 L546.36,36.28 L547.56,38.28 L554.56,37.98 L554.56,47.11 L555.76,43.47 L558.76,43.14 L561.76,42.80 L563.08,42.65 L563.08,35.65 L564.28,37.65 L571.28,37.35 L571.28,47.18 L572.48,43.68 L575.48,43.29 L578.48,42.89 L579.80,42.72 L579.80,34.72 L581.00,36.72 L588.00,36.42 L588.00,47.25 L589.20,43.95 L592.20,43.48 L595.20,43.00 L596.52,42.79 L596.52,32.79 L597.72,34.79 L604.72,34.49 L604.72,47.32 L605.92,44.42 L608.92,43.78 L611.92,43.14 L613.24,42.86 L613.24,30.36 L614.44,32.36 L621.44,32.06 L621.44,47.40 L622.64,44.90 L625.64,44.09 L628.64,43.29 L629.96,42.93 L629.96,28.93 L631.16,30.93 L638.16,30.63 L638.16,47.47 L639.36,44.97 L642.36,44.17 L645.36,43.36 L646.68,43.01 L646.68,27.51 L647.88,29.51 L654.88,29.21 L654.88,47.54 L656.08,45.04 L659.08,44.24 L662.08,43.44 L663.40,43.08 L663.40,25.08 L664.60,27.08 L671.60,26.78 L671.60,47.62 L672.80,45.12 L675.80,44.32 L678.80,43.51 L680.12,43.16 L680.12,23.66 L681.32,24.66 L688.60,22.16" fill="none" stroke="#3a3af4" stroke-width="1.6" stroke-linejoin="round" stroke-linecap="round"/>
<text x="428.00" y="39.60" font-size="27" text-anchor="middle" font-weight="normal" fill="#141414" stroke="#141414" stroke-width="1.0" textLength="37" lengthAdjust="spacingAndGlyphs">(b)</text>
<text x="385.80" y="117.00" font-size="11.5" text-anchor="middle" font-weight="bold" fill="#141414" stroke="#141414" stroke-width="0.3" textLength="135" lengthAdjust="spacingAndGlyphs" transform="rotate(-90 385.8 117)">Current Density (mA/cm²)</text>
<text x="553.40" y="265.20" font-size="10.5" text-anchor="middle" font-weight="bold" fill="#141414" stroke="#141414" stroke-width="0.3" textLength="103.2" lengthAdjust="spacingAndGlyphs">Potential vs Ag/AgCl</text>
<text x="600.80" y="61.70" font-size="12.6" text-anchor="start" font-weight="bold" fill="#141414" stroke="#141414" stroke-width="0.3" textLength="75" lengthAdjust="spacingAndGlyphs">0.1 mA/cm²</text>
<path d="M689.5,40.8 L695.9,50 L691.2,50 L691.2,55 L695.9,55 L689.5,64.2 L683.1,55 L687.8,55 L687.8,50 L683.1,50 Z" fill="#111"/>
<rect x="55.5" y="308.0" width="266.5" height="215.5" fill="none" stroke="#3c3c3c" stroke-width="1.3"/>
<line x1="51.00" y1="518.50" x2="55.50" y2="518.50" stroke="#3c3c3c" stroke-width="1.2"/>
<text x="48.50" y="522.00" font-size="10" text-anchor="end" font-weight="bold" fill="#141414" stroke="#141414" stroke-width="0.3">0</text>
<line x1="53.00" y1="492.88" x2="55.50" y2="492.88" stroke="#3c3c3c" stroke-width="1.2"/>
<line x1="51.00" y1="467.25" x2="55.50" y2="467.25" stroke="#3c3c3c" stroke-width="1.2"/>
<text x="48.50" y="470.75" font-size="10" text-anchor="end" font-weight="bold" fill="#141414" stroke="#141414" stroke-width="0.3">500</text>
<line x1="53.00" y1="441.62" x2="55.50" y2="441.62" stroke="#3c3c3c" stroke-width="1.2"/>
<line x1="51.00" y1="416.00" x2="55.50" y2="416.00" stroke="#3c3c3c" stroke-width="1.2"/>
<text x="48.50" y="419.50" font-size="10" text-anchor="end" font-weight="bold" fill="#141414" stroke="#141414" stroke-width="0.3">1000</text>
<line x1="53.00" y1="390.38" x2="55.50" y2="390.38" stroke="#3c3c3c" stroke-width="1.2"/>
<line x1="51.00" y1="364.75" x2="55.50" y2="364.75" stroke="#3c3c3c" stroke-width="1.2"/>
<text x="48.50" y="368.25" font-size="10" text-anchor="end" font-weight="bold" fill="#141414" stroke="#141414" stroke-width="0.3">1500</text>
<line x1="53.00" y1="339.12" x2="55.50" y2="339.12" stroke="#3c3c3c" stroke-width="1.2"/>
<line x1="51.00" y1="313.50" x2="55.50" y2="313.50" stroke="#3c3c3c" stroke-width="1.2"/>
<text x="48.50" y="317.00" font-size="10" text-anchor="end" font-weight="bold" fill="#141414" stroke="#141414" stroke-width="0.3">2000</text>
<line x1="60.25" y1="523.50" x2="60.25" y2="527.50" stroke="#3c3c3c" stroke-width="1.2"/>
<text x="60.25" y="539.00" font-size="10" text-anchor="middle" font-weight="bold" fill="#141414" stroke="#141414" stroke-width="0.3">0</text>
<line x1="84.12" y1="523.50" x2="84.12" y2="526.00" stroke="#3c3c3c" stroke-width="1.2"/>
<line x1="108.00" y1="523.50" x2="108.00" y2="527.50" stroke="#3c3c3c" stroke-width="1.2"/>
<text x="108.00" y="539.00" font-size="10" text-anchor="middle" font-weight="bold" fill="#141414" stroke="#141414" stroke-width="0.3">1000</text>
<line x1="131.88" y1="523.50" x2="131.88" y2="526.00" stroke="#3c3c3c" stroke-width="1.2"/>
<line x1="155.75" y1="523.50" x2="155.75" y2="527.50" stroke="#3c3c3c" stroke-width="1.2"/>
<text x="155.75" y="539.00" font-size="10" text-anchor="middle" font-weight="bold" fill="#141414" stroke="#141414" stroke-width="0.3">2000</text>
<line x1="179.62" y1="523.50" x2="179.62" y2="526.00" stroke="#3c3c3c" stroke-width="1.2"/>
<line x1="203.50" y1="523.50" x2="203.50" y2="527.50" stroke="#3c3c3c" stroke-width="1.2"/>
<text x="203.50" y="539.00" font-size="10" text-anchor="middle" font-weight="bold" fill="#141414" stroke="#141414" stroke-width="0.3">3000</text>
<line x1="227.38" y1="523.50" x2="227.38" y2="526.00" stroke="#3c3c3c" stroke-width="1.2"/>
<line x1="251.25" y1="523.50" x2="251.25" y2="527.50" stroke="#3c3c3c" stroke-width="1.2"/>
<text x="251.25" y="539.00" font-size="10" text-anchor="middle" font-weight="bold" fill="#141414" stroke="#141414" stroke-width="0.3">4000</text>
<line x1="275.12" y1="523.50" x2="275.12" y2="526.00" stroke="#3c3c3c" stroke-width="1.2"/>
<line x1="299.00" y1="523.50" x2="299.00" y2="527.50" stroke="#3c3c3c" stroke-width="1.2"/>
<text x="299.00" y="539.00" font-size="10" text-anchor="middle" font-weight="bold" fill="#141414" stroke="#141414" stroke-width="0.3">5000</text>
<path d="M62.20,511.50 C62.83,510.39 65.03,506.84 66.00,504.84 C66.97,502.85 67.33,501.28 68.00,499.51 C68.67,497.75 69.33,496.00 70.00,494.26 C70.67,492.52 71.33,490.80 72.00,489.09 C72.67,487.37 73.33,485.68 74.00,483.99 C74.67,482.30 75.33,480.63 76.00,478.97 C76.67,477.31 77.33,475.66 78.00,474.02 C78.67,472.39 79.33,470.76 80.00,469.15 C80.67,467.54 81.33,465.95 82.00,464.36 C82.67,462.78 83.33,461.20 84.00,459.65 C84.67,458.09 85.33,456.54 86.00,455.01 C86.67,453.47 87.33,451.95 88.00,450.45 C88.67,448.94 89.33,447.44 90.00,445.96 C90.67,444.48 91.33,443.01 92.00,441.55 C92.67,440.09 93.33,438.65 94.00,437.22 C94.67,435.79 95.33,434.37 96.00,432.96 C96.67,431.56 97.33,430.17 98.00,428.79 C98.67,427.41 99.33,426.04 100.00,424.68 C100.67,423.33 101.33,421.99 102.00,420.66 C102.67,419.33 103.33,418.01 104.00,416.71 C104.67,415.41 105.33,414.12 106.00,412.84 C106.67,411.56 107.33,410.30 108.00,409.04 C108.67,407.79 109.33,406.55 110.00,405.32 C110.67,404.10 111.33,402.88 112.00,401.68 C112.67,400.48 113.33,399.29 114.00,398.12 C114.67,396.94 115.33,395.78 116.00,394.63 C116.67,393.48 117.33,392.34 118.00,391.22 C118.67,390.09 119.33,388.98 120.00,387.88 C120.67,386.78 121.33,385.70 122.00,384.62 C122.67,383.55 123.33,382.49 124.00,381.44 C124.67,380.39 125.33,379.36 126.00,378.34 C126.67,377.31 127.33,376.30 128.00,375.31 C128.67,374.31 129.33,373.33 130.00,372.36 C130.67,371.39 131.33,370.43 132.00,369.48 C132.67,368.54 133.33,367.60 134.00,366.68 C134.67,365.76 135.33,364.86 136.00,363.96 C136.67,363.07 137.33,362.18 138.00,361.32 C138.67,360.45 139.33,359.59 140.00,358.75 C140.67,357.90 141.33,357.07 142.00,356.26 C142.67,355.44 143.33,354.63 144.00,353.84 C144.67,353.05 145.33,352.27 146.00,351.50 C146.67,350.74 147.33,349.98 148.00,349.24 C148.67,348.50 149.33,347.77 150.00,347.05 C150.67,346.34 151.33,345.64 152.00,344.95 C152.67,344.26 153.33,343.58 154.00,342.91 C154.67,342.25 155.33,341.60 156.00,340.96 C156.67,340.32 157.33,339.69 158.00,339.08 C158.67,338.47 159.33,337.87 160.00,337.28 C160.67,336.69 161.33,336.12 162.00,335.55 C162.67,334.99 163.33,334.44 164.00,333.91 C164.67,333.37 165.33,332.85 166.00,332.33 C166.67,331.82 167.33,331.32 168.00,330.84 C168.67,330.35 169.33,329.88 170.00,329.42 C170.67,328.96 171.33,328.51 172.00,328.08 C172.67,327.64 173.33,327.22 174.00,326.81 C174.67,326.40 175.33,326.01 176.00,325.63 C176.67,325.24 177.33,324.87 178.00,324.51 C178.67,324.16 179.33,323.81 180.00,323.48 C180.67,323.15 181.33,322.83 182.00,322.52 C182.67,322.21 183.33,321.92 184.00,321.64 C184.67,321.36 185.33,321.09 186.00,320.83 C186.67,320.58 187.33,320.34 188.00,320.11 C188.67,319.88 189.33,319.66 190.00,319.45 C190.67,319.25 191.33,319.06 192.00,318.88 C192.67,318.70 193.33,318.53 194.00,318.38 C194.67,318.23 195.33,318.09 196.00,317.96 C196.67,317.83 197.33,317.72 198.00,317.61 C198.67,317.51 199.33,317.42 200.00,317.35 C200.67,317.27 201.33,317.20 202.00,317.15 C202.67,317.10 203.33,317.06 204.00,317.04 C204.67,317.01 205.33,317.00 206.00,317.00 C206.67,317.00 207.33,317.01 208.00,317.04 C208.67,317.07 209.33,317.11 210.00,317.16 C210.67,317.21 211.33,317.28 212.00,317.35 C212.67,317.43 213.33,317.53 214.00,317.63 C214.67,317.74 215.33,317.85 216.00,317.99 C216.67,318.12 217.33,318.26 218.00,318.42 C218.67,318.58 219.33,318.75 220.00,318.93 C220.67,319.12 221.33,319.31 222.00,319.52 C222.67,319.73 223.33,319.96 224.00,320.19 C224.67,320.43 225.33,320.68 226.00,320.94 C226.67,321.20 227.33,321.48 228.00,321.77 C228.67,322.06 229.33,322.36 230.00,322.68 C230.67,322.99 231.33,323.32 232.00,323.66 C232.67,324.00 233.33,324.36 234.00,324.73 C234.67,325.09 235.33,325.47 236.00,325.87 C236.67,326.26 237.33,326.67 238.00,327.09 C238.67,327.51 239.33,327.94 240.00,328.39 C240.67,328.84 241.33,329.30 242.00,329.77 C242.67,330.24 243.33,330.73 244.00,331.23 C244.67,331.73 245.33,332.24 246.00,332.77 C246.67,333.29 247.33,333.83 248.00,334.38 C248.67,334.93 249.33,335.50 250.00,336.08 C250.67,336.66 251.33,337.25 252.00,337.85 C252.67,338.45 253.33,339.07 254.00,339.70 C254.67,340.33 255.33,340.98 256.00,341.63 C256.67,342.29 257.33,342.96 258.00,343.64 C258.67,344.33 259.33,345.02 260.00,345.73 C260.67,346.44 261.33,347.17 262.00,347.90 C262.67,348.64 263.33,349.39 264.00,350.15 C264.67,350.91 265.33,351.69 266.00,352.47 C266.67,353.26 267.33,354.06 268.00,354.88 C268.67,355.69 269.33,356.52 270.00,357.36 C270.67,358.20 271.33,359.06 272.00,359.92 C272.67,360.79 273.33,361.67 274.00,362.56 C274.67,363.46 275.33,364.36 276.00,365.28 C276.67,366.20 277.33,367.14 278.00,368.08 C278.67,369.03 279.33,369.99 280.00,370.96 C280.67,371.93 281.33,372.92 282.00,373.92 C282.67,374.91 283.33,375.93 284.00,376.95 C284.67,377.98 285.33,379.01 286.00,380.06 C286.67,381.12 287.33,382.18 288.00,383.26 C288.67,384.33 289.33,385.42 290.00,386.53 C290.67,387.63 291.33,388.75 292.00,389.88 C292.67,391.01 293.33,392.15 294.00,393.31 C294.67,394.46 295.33,395.63 296.00,396.82 C296.67,398.00 297.33,399.19 298.00,400.40 C298.67,401.61 299.33,402.83 300.00,404.07 C300.67,405.30 301.33,406.55 302.00,407.81 C302.67,409.07 303.33,410.35 304.00,411.64 C304.67,412.92 305.33,414.22 306.00,415.54 C306.67,416.85 307.33,418.18 308.00,419.52 C308.67,420.86 309.33,422.21 310.00,423.58 C310.67,424.94 311.33,426.32 312.00,427.72 C312.67,429.11 313.33,430.52 314.00,431.93 C314.67,433.35 315.60,435.37 316.00,436.23 C316.40,437.09 316.33,436.95 316.40,437.10" fill="none" stroke="#3a3af4" stroke-width="1.8" stroke-linejoin="round" stroke-linecap="round"/>
<path d="M62.20,514.77 C62.45,514.36 63.20,513.16 63.70,512.34 C64.20,511.53 64.70,510.70 65.20,509.87 C65.70,509.04 66.20,508.20 66.70,507.35 C67.20,506.51 67.70,505.66 68.20,504.80 C68.70,503.95 69.20,503.08 69.70,502.22 C70.20,501.35 70.70,500.48 71.20,499.61 C71.70,498.74 72.20,497.86 72.70,496.99 C73.20,496.11 73.70,495.23 74.20,494.35 C74.70,493.46 75.20,492.58 75.70,491.70 C76.20,490.82 76.70,489.93 77.20,489.05 C77.70,488.17 78.20,487.29 78.70,486.41 C79.20,485.53 79.70,484.65 80.20,483.77 C80.70,482.90 81.20,482.02 81.70,481.15 C82.20,480.28 82.70,479.42 83.20,478.56 C83.70,477.70 84.20,476.84 84.70,475.99 C85.20,475.14 85.70,474.29 86.20,473.45 C86.70,472.62 87.20,471.78 87.70,470.96 C88.20,470.13 88.70,469.32 89.20,468.51 C89.70,467.70 90.20,466.90 90.70,466.11 C91.20,465.32 91.70,464.53 92.20,463.76 C92.70,462.99 93.20,462.23 93.70,461.48 C94.20,460.73 94.70,459.99 95.20,459.26 C95.70,458.54 96.20,457.82 96.70,457.12 C97.20,456.42 97.70,455.73 98.20,455.05 C98.70,454.37 99.20,453.71 99.70,453.07 C100.20,452.42 100.70,451.78 101.20,451.17 C101.70,450.55 102.20,449.95 102.70,449.36 C103.20,448.77 103.70,448.20 104.20,447.65 C104.70,447.10 105.20,446.56 105.70,446.04 C106.20,445.52 106.70,445.02 107.20,444.54 C107.70,444.05 108.20,443.59 108.70,443.14 C109.20,442.69 109.70,442.27 110.20,441.86 C110.70,441.45 111.20,441.06 111.70,440.69 C112.20,440.32 112.70,439.97 113.20,439.65 C113.70,439.32 114.20,439.01 114.70,438.72 C115.20,438.44 115.70,438.17 116.20,437.93 C116.70,437.68 117.20,437.46 117.70,437.26 C118.20,437.06 118.70,436.88 119.20,436.72 C119.70,436.57 120.20,436.43 120.70,436.32 C121.20,436.21 121.70,436.12 122.20,436.05 C122.70,435.99 123.20,435.95 123.70,435.93 C124.20,435.91 124.70,435.91 125.20,435.94 C125.70,435.96 126.20,436.01 126.70,436.09 C127.20,436.16 127.70,436.26 128.20,436.38 C128.70,436.50 129.20,436.64 129.70,436.81 C130.20,436.98 130.70,437.17 131.20,437.39 C131.70,437.60 132.20,437.84 132.70,438.11 C133.20,438.37 133.70,438.65 134.20,438.96 C134.70,439.27 135.20,439.61 135.70,439.96 C136.20,440.32 136.70,440.70 137.20,441.10 C137.70,441.50 138.20,441.93 138.70,442.38 C139.20,442.83 139.70,443.30 140.20,443.79 C140.70,444.28 141.20,444.80 141.70,445.34 C142.20,445.87 142.70,446.43 143.20,447.01 C143.70,447.59 144.20,448.19 144.70,448.82 C145.20,449.44 145.70,450.08 146.20,450.75 C146.70,451.41 147.20,452.09 147.70,452.80 C148.20,453.50 148.70,454.22 149.20,454.96 C149.70,455.70 150.20,456.46 150.70,457.24 C151.20,458.02 151.70,458.81 152.20,459.62 C152.70,460.43 153.20,461.26 153.70,462.11 C154.20,462.95 154.70,463.81 155.20,464.68 C155.70,465.56 156.20,466.45 156.70,467.35 C157.20,468.25 157.70,469.17 158.20,470.09 C158.70,471.02 159.20,471.96 159.70,472.91 C160.20,473.86 160.70,474.83 161.20,475.80 C161.70,476.77 162.20,477.75 162.70,478.73 C163.20,479.72 163.70,480.72 164.20,481.72 C164.70,482.72 165.20,483.73 165.70,484.74 C166.20,485.75 166.70,486.77 167.20,487.79 C167.70,488.81 168.20,489.83 168.70,490.85 C169.20,491.88 169.83,493.17 170.20,493.92 C170.57,494.67 170.78,495.11 170.90,495.35" fill="none" stroke="#34ec34" stroke-width="1.8" stroke-linejoin="round" stroke-linecap="round"/>
<path d="M62.20,515.76 C62.45,515.16 63.20,513.28 63.70,512.14 C64.20,511.00 64.70,509.94 65.20,508.92 C65.70,507.90 66.20,506.95 66.70,506.02 C67.20,505.09 67.70,504.22 68.20,503.36 C68.70,502.51 69.20,501.69 69.70,500.88 C70.20,500.08 70.70,499.30 71.20,498.53 C71.70,497.76 72.20,497.01 72.70,496.27 C73.20,495.52 73.70,494.79 74.20,494.05 C74.70,493.32 75.20,492.59 75.70,491.87 C76.20,491.14 76.70,490.41 77.20,489.69 C77.70,488.96 78.20,488.24 78.70,487.51 C79.20,486.78 79.70,486.05 80.20,485.32 C80.70,484.59 81.20,483.86 81.70,483.13 C82.20,482.39 82.70,481.66 83.20,480.93 C83.70,480.19 84.20,479.46 84.70,478.72 C85.20,477.99 85.70,477.26 86.20,476.53 C86.70,475.81 87.20,475.08 87.70,474.36 C88.20,473.65 88.70,472.93 89.20,472.23 C89.70,471.53 90.20,470.83 90.70,470.15 C91.20,469.46 91.70,468.79 92.20,468.13 C92.70,467.47 93.20,466.82 93.70,466.19 C94.20,465.56 94.70,464.94 95.20,464.34 C95.70,463.75 96.20,463.16 96.70,462.61 C97.20,462.05 97.70,461.51 98.20,461.00 C98.70,460.48 99.20,459.99 99.70,459.52 C100.20,459.06 100.70,458.61 101.20,458.20 C101.70,457.78 102.20,457.39 102.70,457.03 C103.20,456.67 103.70,456.34 104.20,456.03 C104.70,455.73 105.20,455.45 105.70,455.21 C106.20,454.96 106.70,454.75 107.20,454.56 C107.70,454.38 108.20,454.22 108.70,454.10 C109.20,453.98 109.70,453.88 110.20,453.82 C110.70,453.76 111.20,453.73 111.70,453.73 C112.20,453.73 112.70,453.75 113.20,453.81 C113.70,453.87 114.20,453.96 114.70,454.08 C115.20,454.19 115.70,454.34 116.20,454.51 C116.70,454.69 117.20,454.89 117.70,455.12 C118.20,455.35 118.70,455.60 119.20,455.88 C119.70,456.16 120.20,456.47 120.70,456.80 C121.20,457.13 121.70,457.48 122.20,457.86 C122.70,458.23 123.20,458.63 123.70,459.05 C124.20,459.47 124.70,459.91 125.20,460.37 C125.70,460.83 126.20,461.31 126.70,461.82 C127.20,462.32 127.70,462.84 128.20,463.38 C128.70,463.91 129.20,464.47 129.70,465.05 C130.20,465.62 130.70,466.22 131.20,466.83 C131.70,467.45 132.20,468.08 132.70,468.73 C133.20,469.39 133.70,470.06 134.20,470.75 C134.70,471.45 135.20,472.16 135.70,472.90 C136.20,473.64 136.70,474.41 137.20,475.20 C137.70,476.00 138.20,476.81 138.70,477.67 C139.20,478.52 139.70,479.40 140.20,480.33 C140.70,481.26 141.20,482.22 141.70,483.23 C142.20,484.24 142.70,485.29 143.20,486.40 C143.70,487.51 144.20,488.67 144.70,489.91 C145.20,491.14 145.70,492.43 146.20,493.81 C146.70,495.19 147.20,496.63 147.70,498.18 C148.20,499.73 148.78,501.68 149.20,503.11 C149.62,504.54 150.03,506.15 150.20,506.76" fill="none" stroke="#303030" stroke-width="1.8" stroke-linejoin="round" stroke-linecap="round"/>
<path d="M62.20,515.45 C62.45,515.14 63.20,514.20 63.70,513.57 C64.20,512.95 64.70,512.33 65.20,511.72 C65.70,511.10 66.20,510.48 66.70,509.86 C67.20,509.25 67.70,508.63 68.20,508.01 C68.70,507.40 69.20,506.78 69.70,506.16 C70.20,505.54 70.70,504.92 71.20,504.30 C71.70,503.67 72.20,503.05 72.70,502.42 C73.20,501.79 73.70,501.17 74.20,500.54 C74.70,499.91 75.20,499.27 75.70,498.64 C76.20,498.01 76.70,497.37 77.20,496.74 C77.70,496.10 78.20,495.46 78.70,494.82 C79.20,494.19 79.70,493.55 80.20,492.91 C80.70,492.27 81.20,491.64 81.70,491.00 C82.20,490.37 82.70,489.73 83.20,489.10 C83.70,488.47 84.20,487.84 84.70,487.21 C85.20,486.59 85.70,485.97 86.20,485.35 C86.70,484.73 87.20,484.12 87.70,483.51 C88.20,482.91 88.70,482.31 89.20,481.72 C89.70,481.13 90.20,480.54 90.70,479.97 C91.20,479.39 91.70,478.83 92.20,478.27 C92.70,477.72 93.20,477.17 93.70,476.64 C94.20,476.11 94.70,475.59 95.20,475.09 C95.70,474.58 96.20,474.09 96.70,473.61 C97.20,473.14 97.70,472.67 98.20,472.23 C98.70,471.78 99.20,471.36 99.70,470.95 C100.20,470.54 100.70,470.15 101.20,469.78 C101.70,469.41 102.20,469.05 102.70,468.72 C103.20,468.39 103.70,468.08 104.20,467.79 C104.70,467.51 105.20,467.24 105.70,467.00 C106.20,466.76 106.70,466.54 107.20,466.35 C107.70,466.15 108.20,465.98 108.70,465.84 C109.20,465.70 109.70,465.58 110.20,465.49 C110.70,465.39 111.20,465.33 111.70,465.29 C112.20,465.25 112.70,465.23 113.20,465.25 C113.70,465.26 114.20,465.30 114.70,465.37 C115.20,465.44 115.70,465.54 116.20,465.66 C116.70,465.78 117.20,465.93 117.70,466.11 C118.20,466.29 118.70,466.49 119.20,466.72 C119.70,466.95 120.20,467.21 120.70,467.50 C121.20,467.78 121.70,468.09 122.20,468.42 C122.70,468.76 123.20,469.12 123.70,469.50 C124.20,469.89 124.70,470.29 125.20,470.72 C125.70,471.15 126.20,471.60 126.70,472.08 C127.20,472.55 127.70,473.04 128.20,473.55 C128.70,474.06 129.20,474.59 129.70,475.13 C130.20,475.68 130.70,476.24 131.20,476.81 C131.70,477.38 132.20,477.97 132.70,478.56 C133.20,479.15 133.70,479.76 134.20,480.37 C134.70,480.98 135.20,481.60 135.70,482.21 C136.20,482.83 136.70,483.45 137.20,484.06 C137.70,484.68 138.20,485.29 138.70,485.90 C139.20,486.50 139.70,487.10 140.20,487.68 C140.70,488.27 141.20,488.84 141.70,489.39 C142.20,489.94 142.70,490.48 143.20,490.99 C143.70,491.49 144.32,492.07 144.70,492.43 C145.08,492.79 145.37,493.01 145.50,493.12" fill="none" stroke="#fa3a3a" stroke-width="1.8" stroke-linejoin="round" stroke-linecap="round"/>
<text x="80.30" y="340.90" font-size="27" text-anchor="middle" font-weight="normal" fill="#141414" stroke="#141414" stroke-width="1.0" textLength="33.4" lengthAdjust="spacingAndGlyphs">(c)</text>
<text x="13.00" y="411.00" font-size="10.2" text-anchor="middle" font-weight="bold" fill="#141414" stroke="#141414" stroke-width="0.3" textLength="49.4" lengthAdjust="spacingAndGlyphs" transform="rotate(-90 13 411)">-Z'' (Ohm)</text>
<text x="188.90" y="561.00" font-size="10.7" text-anchor="middle" font-weight="bold" fill="#141414" stroke="#141414" stroke-width="0.3" textLength="42.8" lengthAdjust="spacingAndGlyphs">Z' (Ohm)</text>
<rect x="400.5" y="308.0" width="268.0" height="215.20000000000005" fill="none" stroke="#3c3c3c" stroke-width="1.3"/>
<line x1="396.00" y1="519.00" x2="400.50" y2="519.00" stroke="#3c3c3c" stroke-width="1.2"/>
<text x="394.50" y="522.50" font-size="10" text-anchor="end" font-weight="bold" fill="#141414" stroke="#141414" stroke-width="0.3">0</text>
<line x1="398.00" y1="497.90" x2="400.50" y2="497.90" stroke="#3c3c3c" stroke-width="1.2"/>
<line x1="396.00" y1="476.80" x2="400.50" y2="476.80" stroke="#3c3c3c" stroke-width="1.2"/>
<text x="394.50" y="480.30" font-size="10" text-anchor="end" font-weight="bold" fill="#141414" stroke="#141414" stroke-width="0.3">1</text>
<line x1="398.00" y1="455.70" x2="400.50" y2="455.70" stroke="#3c3c3c" stroke-width="1.2"/>
<line x1="396.00" y1="434.60" x2="400.50" y2="434.60" stroke="#3c3c3c" stroke-width="1.2"/>
<text x="394.50" y="438.10" font-size="10" text-anchor="end" font-weight="bold" fill="#141414" stroke="#141414" stroke-width="0.3">2</text>
<line x1="398.00" y1="413.50" x2="400.50" y2="413.50" stroke="#3c3c3c" stroke-width="1.2"/>
<line x1="396.00" y1="392.40" x2="400.50" y2="392.40" stroke="#3c3c3c" stroke-width="1.2"/>
<text x="394.50" y="395.90" font-size="10" text-anchor="end" font-weight="bold" fill="#141414" stroke="#141414" stroke-width="0.3">3</text>
<line x1="398.00" y1="371.30" x2="400.50" y2="371.30" stroke="#3c3c3c" stroke-width="1.2"/>
<line x1="396.00" y1="350.20" x2="400.50" y2="350.20" stroke="#3c3c3c" stroke-width="1.2"/>
<text x="394.50" y="353.70" font-size="10" text-anchor="end" font-weight="bold" fill="#141414" stroke="#141414" stroke-width="0.3">4</text>
<line x1="398.00" y1="329.10" x2="400.50" y2="329.10" stroke="#3c3c3c" stroke-width="1.2"/>
<line x1="396.00" y1="308.00" x2="400.50" y2="308.00" stroke="#3c3c3c" stroke-width="1.2"/>
<text x="394.50" y="311.50" font-size="10" text-anchor="end" font-weight="bold" fill="#141414" stroke="#141414" stroke-width="0.3">5</text>
<line x1="416.70" y1="523.20" x2="416.70" y2="525.70" stroke="#3c3c3c" stroke-width="1.2"/>
<line x1="448.20" y1="523.20" x2="448.20" y2="527.20" stroke="#3c3c3c" stroke-width="1.2"/>
<text x="448.20" y="538.70" font-size="10" text-anchor="middle" font-weight="bold" fill="#141414" stroke="#141414" stroke-width="0.3">400</text>
<line x1="479.70" y1="523.20" x2="479.70" y2="525.70" stroke="#3c3c3c" stroke-width="1.2"/>
<line x1="511.20" y1="523.20" x2="511.20" y2="527.20" stroke="#3c3c3c" stroke-width="1.2"/>
<text x="511.20" y="538.70" font-size="10" text-anchor="middle" font-weight="bold" fill="#141414" stroke="#141414" stroke-width="0.3">500</text>
<line x1="542.70" y1="523.20" x2="542.70" y2="525.70" stroke="#3c3c3c" stroke-width="1.2"/>
<line x1="574.20" y1="523.20" x2="574.20" y2="527.20" stroke="#3c3c3c" stroke-width="1.2"/>
<text x="574.20" y="538.70" font-size="10" text-anchor="middle" font-weight="bold" fill="#141414" stroke="#141414" stroke-width="0.3">600</text>
<line x1="605.70" y1="523.20" x2="605.70" y2="525.70" stroke="#3c3c3c" stroke-width="1.2"/>
<line x1="637.20" y1="523.20" x2="637.20" y2="527.20" stroke="#3c3c3c" stroke-width="1.2"/>
<text x="637.20" y="538.70" font-size="10" text-anchor="middle" font-weight="bold" fill="#141414" stroke="#141414" stroke-width="0.3">700</text>
<path d="M401.00,516.30 C402.42,516.22 409.98,516.58 413.20,515.60 C416.42,514.62 425.01,511.11 428.60,507.90 C432.19,504.69 440.91,490.92 444.00,488.10 C447.09,485.28 451.75,483.70 455.10,483.70 C458.45,483.70 469.11,486.69 472.70,488.10 C476.29,489.51 482.71,494.39 485.90,495.80 C489.08,497.21 497.74,499.63 500.00,500.20 C502.26,500.77 502.29,500.40 505.30,500.70 C508.31,501.00 521.61,502.35 525.80,502.80 C529.99,503.25 537.02,504.25 541.20,504.60 C545.38,504.95 557.07,505.65 561.60,505.80 C566.13,505.95 577.13,505.82 580.00,505.90 C582.87,505.98 584.75,506.85 586.20,506.50 C587.65,506.15 590.03,503.25 592.40,502.90 C594.77,502.55 602.18,503.34 606.50,503.50 C610.82,503.66 625.90,504.30 629.40,504.30 C632.90,504.30 633.62,503.62 636.50,503.50 C639.38,503.38 651.22,503.21 654.10,503.30 C656.98,503.39 659.61,504.18 661.20,504.30 C662.79,504.42 666.94,504.30 667.70,504.30" fill="none" stroke="#3a3af4" stroke-width="1.8" stroke-linejoin="round" stroke-linecap="round"/>
<path d="M401.00,513.40 C402.42,513.14 410.49,512.10 413.20,511.20 C415.91,510.30 421.63,508.91 424.20,505.70 C426.77,502.49 432.89,490.90 435.20,483.70 C437.51,476.50 441.94,449.92 444.00,444.00 C446.06,438.08 450.06,433.51 452.90,433.00 C455.73,432.49 465.48,437.02 468.30,439.60 C471.12,442.18 475.05,451.50 477.10,455.10 C479.15,458.71 483.23,467.55 485.90,470.50 C488.57,473.45 497.74,479.02 500.00,480.40 C502.26,481.78 503.48,481.93 505.30,482.30 C507.12,482.67 513.21,482.85 515.60,483.60 C517.99,484.35 523.42,487.72 525.80,488.70 C528.18,489.68 533.01,491.40 536.00,492.00 C538.99,492.60 547.22,493.15 551.40,493.80 C555.58,494.45 568.46,496.97 571.80,497.60 C575.14,498.23 578.22,499.09 580.00,499.20 C581.78,499.31 585.25,498.78 587.10,498.50 C588.96,498.22 592.61,496.91 595.90,496.80 C599.19,496.69 611.39,497.51 615.30,497.60 C619.21,497.69 626.73,497.76 629.40,497.60 C632.07,497.44 635.94,496.44 638.20,496.20 C640.46,495.95 646.12,495.39 648.80,495.50 C651.48,495.61 659.00,496.91 661.20,497.10 C663.41,497.29 666.94,497.10 667.70,497.10" fill="none" stroke="#303030" stroke-width="1.8" stroke-linejoin="round" stroke-linecap="round"/>
<path d="M401.00,512.80 C402.42,512.36 410.75,510.34 413.20,509.00 C415.65,507.66 420.20,503.74 422.00,501.30 C423.80,498.86 427.06,492.72 428.60,488.10 C430.14,483.48 433.92,468.13 435.20,461.70 C436.48,455.27 438.43,440.20 439.60,433.00 C440.77,425.80 444.16,405.30 445.20,400.00 C446.24,394.70 447.39,389.88 448.50,387.60 C449.61,385.33 453.26,381.07 454.70,380.50 C456.13,379.93 459.37,381.25 460.80,382.70 C462.24,384.15 465.45,389.96 467.00,392.90 C468.55,395.84 472.92,404.50 474.10,407.90 C475.28,411.29 475.72,417.79 477.10,422.00 C478.48,426.21 483.23,439.37 485.90,444.00 C488.57,448.63 497.74,459.02 500.00,461.70 C502.26,464.38 502.88,465.34 505.30,467.00 C507.72,468.66 517.12,473.81 520.70,475.90 C524.28,477.99 532.13,483.10 536.00,484.90 C539.87,486.70 549.72,489.96 553.90,491.30 C558.08,492.64 567.52,495.56 571.80,496.40 C576.08,497.24 586.55,498.09 590.60,498.50 C594.65,498.91 601.97,499.58 606.50,499.90 C611.03,500.21 625.90,501.21 629.40,501.20 C632.90,501.19 633.62,499.91 636.50,499.80 C639.38,499.69 651.22,500.10 654.10,500.30 C656.98,500.50 659.61,501.39 661.20,501.50 C662.79,501.61 666.94,501.24 667.70,501.20" fill="none" stroke="#34ec34" stroke-width="1.8" stroke-linejoin="round" stroke-linecap="round"/>
<path d="M401.00,499.10 C401.40,499.42 403.35,501.69 404.40,501.80 C405.45,501.91 408.59,500.57 410.00,500.00 C411.41,499.43 415.10,498.29 416.50,496.90 C417.90,495.51 420.59,491.69 422.00,488.10 C423.41,484.51 427.06,473.30 428.60,466.10 C430.14,458.90 434.05,434.11 435.20,426.40 C436.35,418.69 437.78,408.03 438.50,400.00 C439.22,391.97 440.34,365.63 441.40,357.60 C442.46,349.57 446.10,335.14 447.60,331.20 C449.11,327.26 452.76,324.12 454.30,323.80 C455.84,323.49 458.70,325.58 460.80,328.50 C462.90,331.42 470.34,344.17 472.30,348.80 C474.26,353.43 476.14,362.46 477.60,368.20 C479.06,373.94 483.46,393.04 484.80,398.00 C486.14,402.96 487.60,408.18 489.10,410.70 C490.61,413.22 495.81,418.05 497.70,419.60 C499.59,421.15 503.21,423.31 505.30,424.00 C507.39,424.69 513.51,425.12 515.60,425.50 C517.69,425.88 521.42,426.34 523.20,427.30 C524.99,428.26 528.51,432.21 530.90,433.70 C533.29,435.19 540.71,438.67 543.70,440.10 C546.69,441.54 553.82,444.89 556.50,446.00 C559.18,447.11 564.02,449.25 566.70,449.60 C569.38,449.95 577.23,448.71 579.50,449.00 C581.77,449.29 584.60,452.85 586.20,452.10 C587.80,451.35 590.83,443.25 593.20,442.60 C595.57,441.95 603.71,445.85 606.50,446.50 C609.29,447.15 614.32,447.49 617.10,448.20 C619.88,448.91 628.04,452.69 630.30,452.60 C632.56,452.51 634.34,448.01 636.50,447.40 C638.66,446.79 646.54,447.10 648.80,447.40 C651.06,447.70 654.45,449.14 655.90,450.00 C657.35,450.86 659.82,454.39 661.20,454.80 C662.58,455.21 666.94,453.65 667.70,453.50" fill="none" stroke="#fa3a3a" stroke-width="1.8" stroke-linejoin="round" stroke-linecap="round"/>
<text x="641.40" y="340.50" font-size="27" text-anchor="middle" font-weight="normal" fill="#141414" stroke="#141414" stroke-width="1.0" textLength="37.4" lengthAdjust="spacingAndGlyphs">(d)</text>
<text x="374.60" y="409.10" font-size="10.5" text-anchor="middle" font-weight="bold" fill="#141414" stroke="#141414" stroke-width="0.3" textLength="40.2" lengthAdjust="spacingAndGlyphs" transform="rotate(-90 374.6 409.1)">IPCE (%)</text>
<text x="534.60" y="560.80" font-size="10.7" text-anchor="middle" font-weight="bold" fill="#141414" stroke="#141414" stroke-width="0.3" textLength="83" lengthAdjust="spacingAndGlyphs">Wavelengh (nm)</text>
</svg></body></html>
